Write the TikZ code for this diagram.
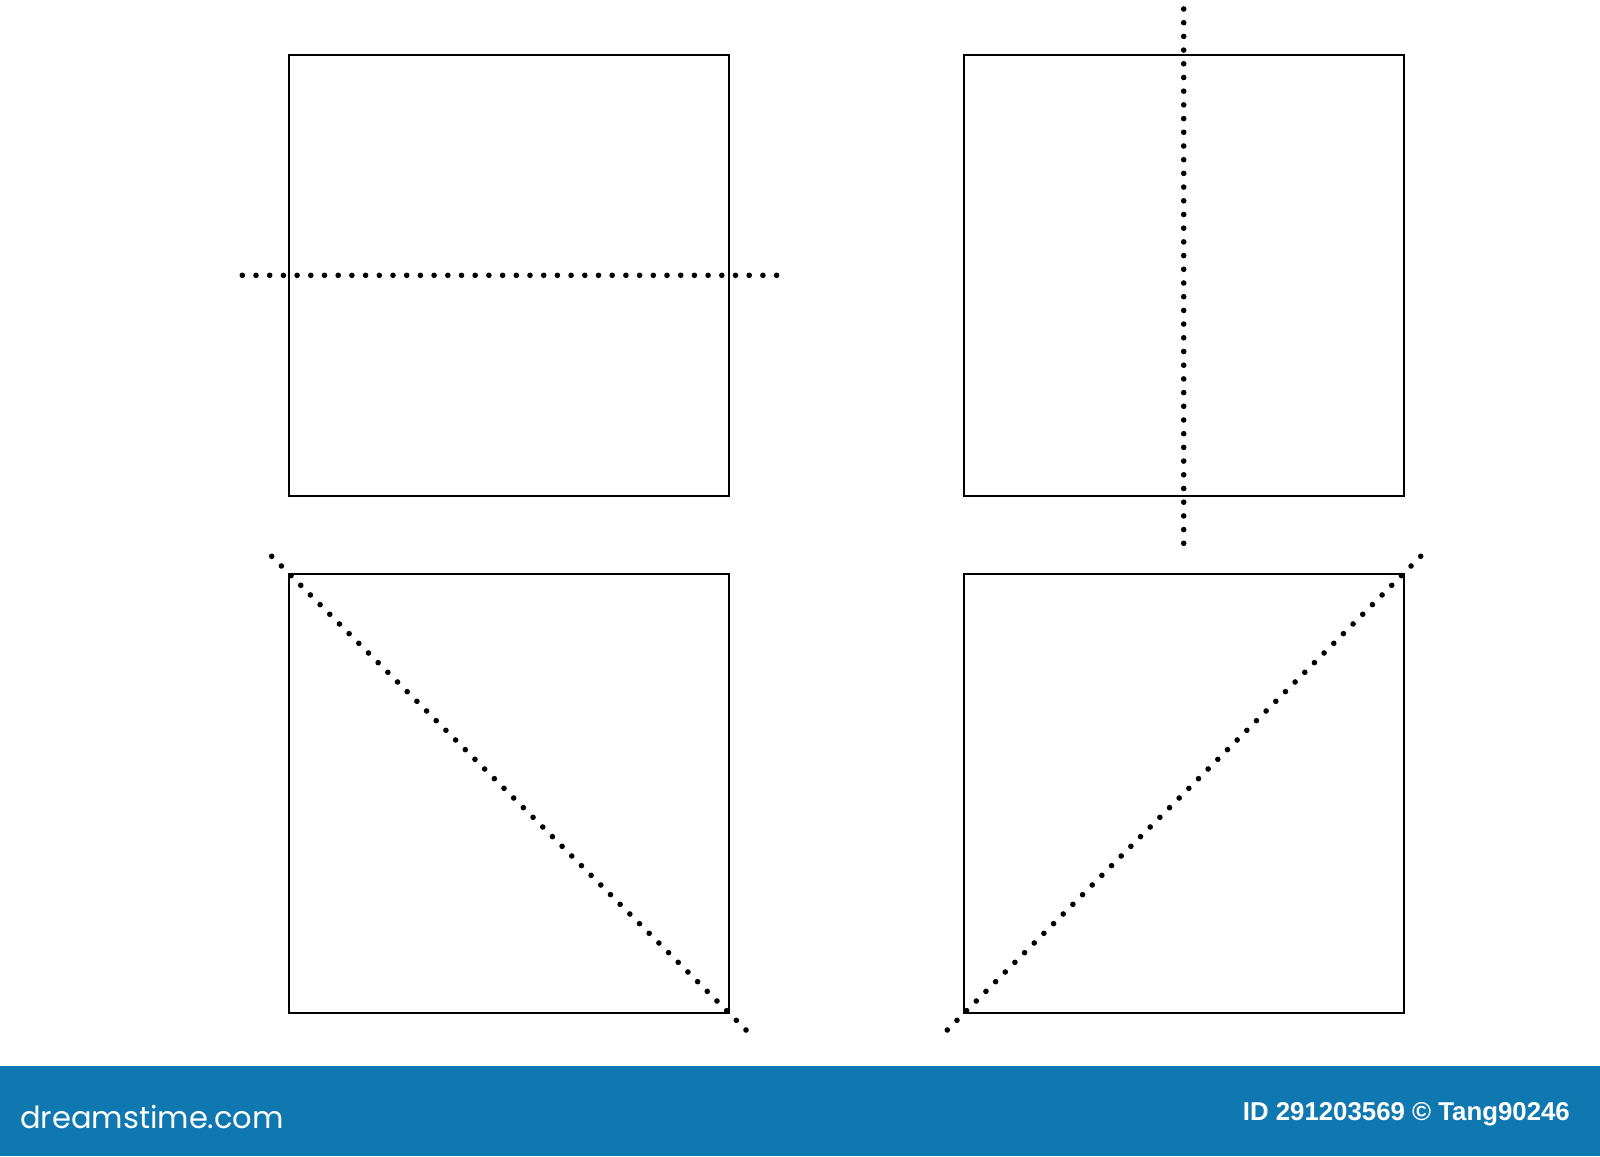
\documentclass[tikz,border=0pt]{standalone}
\usepackage{fontspec}
\setmainfont{Poppins}
\newfontfamily\idfont{Liberation Sans}[BoldFont={Liberation Sans Bold}]
\usetikzlibrary{calc}
\definecolor{barblue}{RGB}{16,120,176}
\tikzset{
  sq/.style={draw=black, line width=2pt},
  dotc/.style={fill=black},
}
\begin{document}
\begin{tikzpicture}[x=1pt,y=-1pt]
\useasboundingbox (0,0) rectangle (1600,1156);
\fill[white] (0,0) rectangle (1600,1156);
% squares
\draw[sq] (289,55.5) rectangle (728.5,495.5);
\draw[sq] (964,55.5) rectangle (1403.5,495.5);
\draw[sq] (289,573.5) rectangle (728.5,1012.5);
\draw[sq] (964,573.5) rectangle (1403.5,1012.5);
% dotted lines
\coordinate (h1) at (242.3,275.3);
\coordinate (h2) at (776.6,275.3);
\coordinate (v1) at (1183.7,9);
\coordinate (v2) at (1183.7,543.3);
\coordinate (d1) at (271.7,556.3);
\coordinate (d2) at (746,1030);
\coordinate (e1) at (947.3,1030);
\coordinate (e2) at (1420.7,556.3);
\foreach \i in {0,...,39} {
  \fill[dotc] ($(h1)!\i/39!(h2)$) circle (2.8);
  \fill[dotc] ($(v1)!\i/39!(v2)$) circle (2.8);
}
\foreach \i in {0,...,49} {
  \fill[dotc] ($(d1)!\i/49!(d2)$) circle (2.8);
  \fill[dotc] ($(e1)!\i/49!(e2)$) circle (2.8);
}
% bottom bar
\fill[barblue] (0,1066) rectangle (1600,1156);
\node[anchor=base west, inner sep=0, text=white, font=\fontsize{30.5}{31}\selectfont] (brand) at (20,1128) {dreamstime.com};
\node[anchor=base east, inner sep=0, text=white, font=\idfont\bfseries\fontsize{25.8}{26}\selectfont] (credit) at (1570,1120) {ID 291203569 © Tang90246};
\end{tikzpicture}
\end{document}
